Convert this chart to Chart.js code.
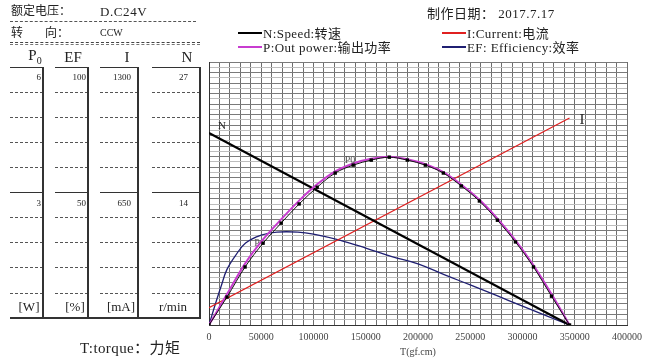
<!DOCTYPE html>
<html>
<head>
<meta charset="utf-8">
<script src="https://cdn.jsdelivr.net/npm/chart.js@4.4.0/dist/chart.umd.min.js"></script>
<style>
  body { margin: 0; background: #fff; }
  #wrap { position: relative; width: 650px; height: 363px; overflow: hidden;
    font-family: 'Liberation Serif', 'Noto Sans CJK SC', serif; color: #222; }
  #c { position: absolute; left: 0; top: 0; }
  .t { position: absolute; white-space: nowrap; line-height: 1; transform: translateY(-50%); }
  .r { transform: translate(-100%, -50%); }
  .m { transform: translate(-50%, -50%); }
  .hl { position: absolute; height: 0; }
  .vl { position: absolute; width: 0; border-left: 2px solid #333; }
  .sw { position: absolute; height: 0; width: 24px; }
</style>
</head>
<body>
<div id="wrap">
  <canvas id="c" width="650" height="363"></canvas>
</div>
<script>
// torque points (gf.cm) for the output power curve
const torque = [0, 17250, 34500, 51750, 69000, 86250, 103500, 120750, 138000, 155250, 172500,
  189750, 207000, 224250, 241500, 258750, 276000, 293250, 310500, 327750, 345000];
const powerCurve = [0, 0.74, 1.47, 2.05, 2.53, 2.98, 3.37, 3.68, 3.87, 3.98, 4.03,
  3.97, 3.85, 3.66, 3.36, 3.0, 2.55, 2.03, 1.43, 0.74, 0];
const powerPoints = [0, 0.67, 1.39, 1.96, 2.44, 2.9, 3.3, 3.64, 3.83, 3.95, 4.02,
  3.95, 3.83, 3.64, 3.33, 2.97, 2.51, 1.99, 1.39, 0.69, 0];
// efficiency (%)
const effTorque = [0, 7000, 12000, 17000, 25000, 35000, 50000, 65000, 85000, 100000,
  125000, 150000, 175000, 200000, 225000, 250000, 275000, 300000, 345000];
const efficiency = [0, 9.6, 16, 22, 27.5, 32.7, 35.9, 37.1, 37.1, 36.3,
  33.9, 30.7, 27.3, 24.4, 20.1, 16.0, 11.8, 7.5, 0];
// speed (r/min) and current (mA) are straight lines
const lineTorque = [0, 345000];
const speed = [20.7, 0];
const current = [90, 1074];

const xTicks = [0, 50000, 100000, 150000, 200000, 250000, 300000, 350000, 400000];

// left table
const tableHeads = ['P<sub style="font-size:10px">0</sub>', 'EF', 'I', 'N'];
const tableTop = ['6', '100', '1300', '27'];
const tableMid = ['3', '50', '650', '14'];
const tableUnits = ['[W]', '[%]', '[mA]', 'r/min'];

const legendItems = [
  ['N:Speed:转速', '#000'],
  ['I:Current:电流', '#e02020'],
  ['P:Out power:输出功率', '#c83cd0'],
  ['EF: Efficiency:效率', '#1f1f72']
];

const wrap = document.getElementById('wrap');
function txt(s, x, y, size, cls, extra) {
  const d = document.createElement('div');
  d.className = 't ' + (cls || '');
  d.style.left = x + 'px';
  d.style.top = y + 'px';
  d.style.fontSize = size + 'px';
  if (extra) d.style.cssText += extra;
  d.innerHTML = s;
  wrap.appendChild(d);
}
function hline(x1, x2, y, style) {
  const d = document.createElement('div');
  d.className = 'hl';
  d.style.left = x1 + 'px';
  d.style.width = (x2 - x1) + 'px';
  d.style.top = y + 'px';
  d.style.borderTop = style;
  wrap.appendChild(d);
}

// header
txt('额定电压：', 11, 11, 12);
txt('D.C24V', 100, 11, 13, '', 'letter-spacing:0.6px');
hline(10, 196, 21, '1px dashed #555');
txt('转', 11, 33, 12);
txt('向：', 45, 33, 12);
txt('CCW', 100, 33, 10);
hline(10, 200, 42, '1px dashed #444');
hline(10, 200, 44, '1px dashed #777');
txt('制作日期： 2017.7.17', 427, 13, 13, '', 'letter-spacing:0.5px');

// table
const colL = [10, 55, 100, 152];
const colR = [43, 88, 138, 200];
const headX = [35, 73, 127, 187];
const valR = [41, 86, 131, 188];
const unitX = [29, 75, 121, 173];
for (let i = 0; i < 4; i++) {
  txt(tableHeads[i], headX[i], 57, 15, 'm');
  txt(tableTop[i], valR[i], 77, 9, 'r');
  txt(tableMid[i], valR[i], 203, 9, 'r');
  txt(tableUnits[i], unitX[i], 306, 13, 'm');
  hline(colL[i], colR[i], 67, '1.5px solid #333');
  hline(colL[i], colR[i], 192, '1.5px solid #333');
  [92, 117, 142, 167, 217, 242, 267, 293].forEach(y => hline(colL[i], colR[i], y, '1px dashed #555'));
  const v = document.createElement('div');
  v.className = 'vl';
  v.style.left = (colR[i] - 1) + 'px';
  v.style.top = '67px';
  v.style.height = '251px';
  wrap.appendChild(v);
}
hline(10, 201, 317, '2px solid #333');
txt('T:torque：力矩', 80, 348, 15, '', 'letter-spacing:0.4px');

// legend
legendItems.forEach((it, i) => {
  const x = i % 2 ? 442 : 238;
  const y = i < 2 ? 33 : 47;
  const s = document.createElement('div');
  s.className = 'sw';
  s.style.left = x + 'px';
  s.style.top = (y - 1) + 'px';
  s.style.borderTop = '2px solid ' + it[1];
  wrap.appendChild(s);
  txt(it[0], x + 25, y, 13, '', 'letter-spacing:0.4px');
});

// labels on the curves
txt('N', 222, 125, 11, 'm');
txt('I', 582, 119, 15, 'm');
txt('P0', 350, 160, 10, 'm', 'color:#555');
txt('P', 257, 243, 10, 'm', 'color:#555');

const pts = (xs, ys) => xs.map((x, i) => ({ x: x, y: ys[i] }));

new Chart(document.getElementById('c'), {
  type: 'line',
  data: {
    datasets: [
      { label: 'P0', data: pts(torque, powerPoints), yAxisID: 'yP', borderColor: '#111', borderWidth: 1,
        pointStyle: 'rect', pointRadius: 2.4, pointBackgroundColor: '#000', pointBorderWidth: 0,
        cubicInterpolationMode: 'monotone', order: 1 },
      { label: 'P', data: pts(torque, powerCurve), yAxisID: 'yP', borderColor: '#c83cd0', borderWidth: 2,
        pointRadius: 0, cubicInterpolationMode: 'monotone', order: 2 },
      { label: 'N', data: pts(lineTorque, speed), yAxisID: 'yN', borderColor: '#000', borderWidth: 2.2,
        pointRadius: 0, order: 3 },
      { label: 'I', data: pts(lineTorque, current), yAxisID: 'yI', borderColor: '#e02020', borderWidth: 1.2,
        pointRadius: 0, order: 4 },
      { label: 'EF', data: pts(effTorque, efficiency), yAxisID: 'yEF', borderColor: '#1f1f72', borderWidth: 1.3,
        pointRadius: 0, tension: 0.4, order: 5 }
    ]
  },
  options: {
    responsive: false,
    animation: false,
    devicePixelRatio: 1,
    layout: { padding: { left: 209, right: 23, top: 62, bottom: 0 } },
    plugins: { legend: { display: false }, tooltip: { enabled: false } },
    scales: {
      x: {
        type: 'linear', min: 0, max: 400000,
        afterFit: s => { s.height = 38; },
        grid: { color: '#6e6e6e', drawTicks: false },
        border: { color: '#333' },
        ticks: {
          stepSize: 10000, maxTicksLimit: 100, autoSkip: false, maxRotation: 0, padding: 6,
          color: '#444', font: { family: 'Liberation Serif', size: 10 },
          callback: v => xTicks.includes(v) ? String(v) : ''
        },
        title: { display: true, text: 'T(gf.cm)', color: '#444', padding: { top: 0, bottom: 5 },
          font: { family: 'Liberation Serif', size: 10 } }
      },
      y: {
        min: 0, max: 50,
        afterFit: s => { s.width = 0; },
        grid: { drawTicks: false, color: c => c.index % 2 ? '#bdbdbd' : '#7a7a7a' },
        border: { color: '#333' },
        ticks: { display: false, stepSize: 1, maxTicksLimit: 100 }
      },
      yN: { display: false, min: 0, max: 28.35 },
      yI: { display: false, min: 0, max: 1365 },
      yP: { display: false, min: 0, max: 6.3 },
      yEF: { display: false, min: 0, max: 105 }
    }
  }
});
</script>
</body>
</html>
